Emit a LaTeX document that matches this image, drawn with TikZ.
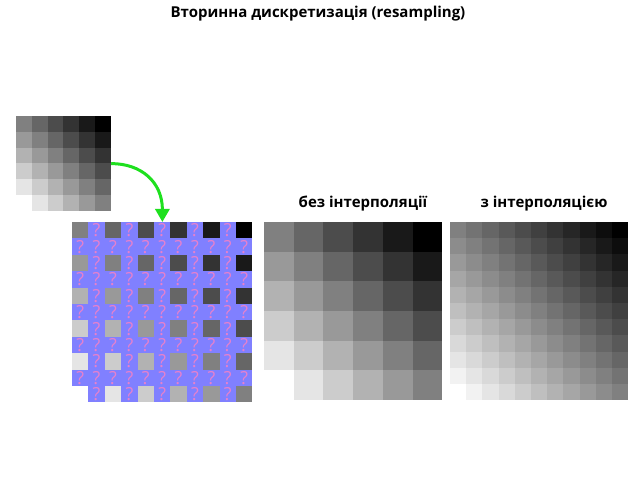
\documentclass[tikz,border=0pt]{standalone}
\usepackage{fontspec}
\setmainfont{Open Sans}
\usetikzlibrary{positioning,arrows.meta}
\definecolor{qblue}{RGB}{128,128,255}
\definecolor{qpink}{RGB}{232,128,204}
\definecolor{arrowgreen}{RGB}{30,224,30}
\begin{document}
\begin{tikzpicture}[x=1pt,y=-1pt,
  gridframe/.style={rectangle,inner sep=0pt,draw=none,anchor=north west},
  qmark/.style={text=qpink,font=\fontsize{18}{18}\selectfont,inner sep=0pt},
  heading/.style={font=\fontsize{15}{18}\selectfont\bfseries,inner sep=0pt},
  resamplearrow/.style={draw=arrowgreen,line width=3pt,-{Triangle[length=13pt,width=14pt]}}]
		\useasboundingbox[fill=white] (0,0) rectangle (638,478);
		\node[heading] (title) at (318,14) {Вторинна дискретизація (resampling)};
		% the four grids
		\node[gridframe,minimum width=94.8pt,minimum height=94.8pt] (orig) at (16,116) {};
		\node[gridframe,minimum width=180.4pt,minimum height=180.4pt] (upsamp) at (72,222) {};
		\node[gridframe,minimum width=178.2pt,minimum height=178.2pt] (nearest) at (264,222) {};
		\node[gridframe,minimum width=178.2pt,minimum height=178.2pt] (bilinear) at (450,222) {};
		\node[heading] (nearestlbl) at (363,204) {без інтерполяції};
		\node[heading] (bilinearlbl) at (544,204) {з інтерполяцією};
		% original 6x6
		\foreach \r in {0,...,5}
			\foreach \c in {0,...,5} {
				\pgfmathtruncatemacro\k{50+10*(\c-\r)}
				\fill[black!\k] (16+\c*15.8,116+\r*15.8) rectangle ++(15.8,15.8);
			}
		% upsampled 11x11 with unknown cells
		\fill[qblue] (72,222) rectangle ++(180.4,180.4);
		\foreach \r in {0,...,10}
			\foreach \c in {0,...,10} {
				\pgfmathtruncatemacro\odd{mod(\r,2)+mod(\c,2)}
				\ifnum\odd=0
					\pgfmathtruncatemacro\k{50+5*(\c-\r)}
					\fill[black!\k] (72+\c*16.4,222+\r*16.4) rectangle ++(16.4,16.4);
				\else
					\node[qmark] at (72+\c*16.4+8.2,222+\r*16.4+8.4) {?};
				\fi
			}
		% nearest neighbour
		\foreach \r in {0,...,5}
			\foreach \c in {0,...,5} {
				\pgfmathtruncatemacro\k{50+10*(\c-\r)}
				\fill[black!\k] (264+\c*29.7,222+\r*29.7) rectangle ++(29.7,29.7);
			}
		% interpolated
		\foreach \r in {0,...,10}
			\foreach \c in {0,...,10} {
				\pgfmathtruncatemacro\k{50+5*(\c-\r)}
				\fill[black!\k] (450+\c*16.2,222+\r*16.2) rectangle ++(16.2,16.2);
			}
		\draw[resamplearrow] (orig.east) .. controls +(30,0) and +(0,-40) .. (upsamp.north);
	\end{tikzpicture}
\end{document}
